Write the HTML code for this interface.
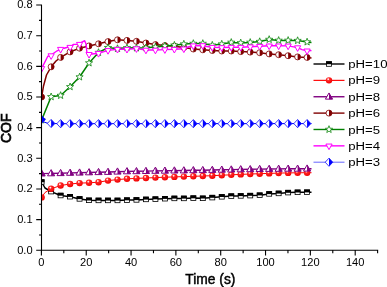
<!DOCTYPE html>
<html><head><meta charset="utf-8"><title>COF vs Time</title>
<style>html,body{margin:0;padding:0;background:#fff;overflow:hidden}svg{display:block}</style>
</head><body>
<svg width="387" height="287" viewBox="0 0 387 287">
<defs><radialGradient id="rg" cx="0.38" cy="0.32" r="0.7"><stop offset="0" stop-color="#fff"/><stop offset="0.12" stop-color="#ffd0d0"/><stop offset="0.3" stop-color="#ff2828"/><stop offset="1" stop-color="#f00000"/></radialGradient></defs>
<rect width="387" height="287" fill="#fff"/>
<clipPath id="cp"><rect x="41.2" y="0" width="340" height="251"/></clipPath><g clip-path="url(#cp)">
<g id="ph10"><path d="M41.65 182.00L45.00 188.00L51.13 191.60L60.61 195.50L70.09 196.70L79.57 198.90L89.05 200.30L98.53 200.40L108.01 200.40L117.49 200.40L126.97 200.10L136.45 199.90L145.93 199.40L155.41 199.10L164.89 198.70L174.37 198.40L183.85 198.40L193.33 198.10L202.81 198.30L212.29 197.60L221.77 196.80L231.25 196.10L240.73 195.90L250.21 195.60L259.69 195.20L269.17 193.90L278.65 193.40L288.13 192.60L297.61 192.30L307.09 192.20L311.50 192.20" fill="none" stroke="#000000" stroke-width="1.5" stroke-linejoin="round"/>
<rect x="39.10" y="179.70" width="5.00" height="4.60" fill="#fff" stroke="#000" stroke-width="0.8"/><rect x="38.70" y="179.30" width="5.80" height="2.90" fill="#000"/>
<rect x="48.63" y="189.30" width="5.00" height="4.60" fill="#fff" stroke="#000" stroke-width="0.8"/><rect x="48.23" y="188.90" width="5.80" height="2.90" fill="#000"/>
<rect x="58.11" y="193.20" width="5.00" height="4.60" fill="#fff" stroke="#000" stroke-width="0.8"/><rect x="57.71" y="192.80" width="5.80" height="2.90" fill="#000"/>
<rect x="67.59" y="194.40" width="5.00" height="4.60" fill="#fff" stroke="#000" stroke-width="0.8"/><rect x="67.19" y="194.00" width="5.80" height="2.90" fill="#000"/>
<rect x="77.07" y="196.60" width="5.00" height="4.60" fill="#fff" stroke="#000" stroke-width="0.8"/><rect x="76.67" y="196.20" width="5.80" height="2.90" fill="#000"/>
<rect x="86.55" y="198.00" width="5.00" height="4.60" fill="#fff" stroke="#000" stroke-width="0.8"/><rect x="86.15" y="197.60" width="5.80" height="2.90" fill="#000"/>
<rect x="96.03" y="198.10" width="5.00" height="4.60" fill="#fff" stroke="#000" stroke-width="0.8"/><rect x="95.63" y="197.70" width="5.80" height="2.90" fill="#000"/>
<rect x="105.51" y="198.10" width="5.00" height="4.60" fill="#fff" stroke="#000" stroke-width="0.8"/><rect x="105.11" y="197.70" width="5.80" height="2.90" fill="#000"/>
<rect x="114.99" y="198.10" width="5.00" height="4.60" fill="#fff" stroke="#000" stroke-width="0.8"/><rect x="114.59" y="197.70" width="5.80" height="2.90" fill="#000"/>
<rect x="124.47" y="197.80" width="5.00" height="4.60" fill="#fff" stroke="#000" stroke-width="0.8"/><rect x="124.07" y="197.40" width="5.80" height="2.90" fill="#000"/>
<rect x="133.95" y="197.60" width="5.00" height="4.60" fill="#fff" stroke="#000" stroke-width="0.8"/><rect x="133.55" y="197.20" width="5.80" height="2.90" fill="#000"/>
<rect x="143.43" y="197.10" width="5.00" height="4.60" fill="#fff" stroke="#000" stroke-width="0.8"/><rect x="143.03" y="196.70" width="5.80" height="2.90" fill="#000"/>
<rect x="152.91" y="196.80" width="5.00" height="4.60" fill="#fff" stroke="#000" stroke-width="0.8"/><rect x="152.51" y="196.40" width="5.80" height="2.90" fill="#000"/>
<rect x="162.39" y="196.40" width="5.00" height="4.60" fill="#fff" stroke="#000" stroke-width="0.8"/><rect x="161.99" y="196.00" width="5.80" height="2.90" fill="#000"/>
<rect x="171.87" y="196.10" width="5.00" height="4.60" fill="#fff" stroke="#000" stroke-width="0.8"/><rect x="171.47" y="195.70" width="5.80" height="2.90" fill="#000"/>
<rect x="181.35" y="196.10" width="5.00" height="4.60" fill="#fff" stroke="#000" stroke-width="0.8"/><rect x="180.95" y="195.70" width="5.80" height="2.90" fill="#000"/>
<rect x="190.83" y="195.80" width="5.00" height="4.60" fill="#fff" stroke="#000" stroke-width="0.8"/><rect x="190.43" y="195.40" width="5.80" height="2.90" fill="#000"/>
<rect x="200.31" y="196.00" width="5.00" height="4.60" fill="#fff" stroke="#000" stroke-width="0.8"/><rect x="199.91" y="195.60" width="5.80" height="2.90" fill="#000"/>
<rect x="209.79" y="195.30" width="5.00" height="4.60" fill="#fff" stroke="#000" stroke-width="0.8"/><rect x="209.39" y="194.90" width="5.80" height="2.90" fill="#000"/>
<rect x="219.27" y="194.50" width="5.00" height="4.60" fill="#fff" stroke="#000" stroke-width="0.8"/><rect x="218.87" y="194.10" width="5.80" height="2.90" fill="#000"/>
<rect x="228.75" y="193.80" width="5.00" height="4.60" fill="#fff" stroke="#000" stroke-width="0.8"/><rect x="228.35" y="193.40" width="5.80" height="2.90" fill="#000"/>
<rect x="238.23" y="193.60" width="5.00" height="4.60" fill="#fff" stroke="#000" stroke-width="0.8"/><rect x="237.83" y="193.20" width="5.80" height="2.90" fill="#000"/>
<rect x="247.71" y="193.30" width="5.00" height="4.60" fill="#fff" stroke="#000" stroke-width="0.8"/><rect x="247.31" y="192.90" width="5.80" height="2.90" fill="#000"/>
<rect x="257.19" y="192.90" width="5.00" height="4.60" fill="#fff" stroke="#000" stroke-width="0.8"/><rect x="256.79" y="192.50" width="5.80" height="2.90" fill="#000"/>
<rect x="266.67" y="191.60" width="5.00" height="4.60" fill="#fff" stroke="#000" stroke-width="0.8"/><rect x="266.27" y="191.20" width="5.80" height="2.90" fill="#000"/>
<rect x="276.15" y="191.10" width="5.00" height="4.60" fill="#fff" stroke="#000" stroke-width="0.8"/><rect x="275.75" y="190.70" width="5.80" height="2.90" fill="#000"/>
<rect x="285.63" y="190.30" width="5.00" height="4.60" fill="#fff" stroke="#000" stroke-width="0.8"/><rect x="285.23" y="189.90" width="5.80" height="2.90" fill="#000"/>
<rect x="295.11" y="190.00" width="5.00" height="4.60" fill="#fff" stroke="#000" stroke-width="0.8"/><rect x="294.71" y="189.60" width="5.80" height="2.90" fill="#000"/>
<rect x="304.59" y="189.90" width="5.00" height="4.60" fill="#fff" stroke="#000" stroke-width="0.8"/><rect x="304.19" y="189.50" width="5.80" height="2.90" fill="#000"/>
</g>
<g id="ph9"><path d="M41.65 197.40L45.00 192.50L51.13 188.80L60.61 185.50L70.09 184.00L79.57 183.10L89.05 182.80L98.53 182.20L108.01 180.60L117.49 179.60L126.97 178.80L136.45 178.40L145.93 178.00L155.41 177.60L164.89 177.20L174.37 176.90L183.85 176.60L193.33 176.30L202.81 176.00L212.29 175.70L221.77 175.20L231.25 174.80L240.73 174.40L250.21 174.00L259.69 173.70L269.17 173.40L278.65 173.10L288.13 172.90L297.61 172.80L307.09 172.70L311.50 172.70" fill="none" stroke="#ff0000" stroke-width="1.0" stroke-linejoin="round"/>
<circle cx="41.6" cy="197.4" r="3.2" fill="url(#rg)"/>
<circle cx="51.13" cy="188.8" r="3.2" fill="url(#rg)"/>
<circle cx="60.61" cy="185.5" r="3.2" fill="url(#rg)"/>
<circle cx="70.09" cy="184.0" r="3.2" fill="url(#rg)"/>
<circle cx="79.57" cy="183.1" r="3.2" fill="url(#rg)"/>
<circle cx="89.05" cy="182.8" r="3.2" fill="url(#rg)"/>
<circle cx="98.53" cy="182.2" r="3.2" fill="url(#rg)"/>
<circle cx="108.01" cy="180.6" r="3.2" fill="url(#rg)"/>
<circle cx="117.49" cy="179.6" r="3.2" fill="url(#rg)"/>
<circle cx="126.97" cy="178.8" r="3.2" fill="url(#rg)"/>
<circle cx="136.45" cy="178.4" r="3.2" fill="url(#rg)"/>
<circle cx="145.93" cy="178.0" r="3.2" fill="url(#rg)"/>
<circle cx="155.41" cy="177.6" r="3.2" fill="url(#rg)"/>
<circle cx="164.89" cy="177.2" r="3.2" fill="url(#rg)"/>
<circle cx="174.37" cy="176.9" r="3.2" fill="url(#rg)"/>
<circle cx="183.85" cy="176.6" r="3.2" fill="url(#rg)"/>
<circle cx="193.33" cy="176.3" r="3.2" fill="url(#rg)"/>
<circle cx="202.81" cy="176.0" r="3.2" fill="url(#rg)"/>
<circle cx="212.29" cy="175.7" r="3.2" fill="url(#rg)"/>
<circle cx="221.77" cy="175.2" r="3.2" fill="url(#rg)"/>
<circle cx="231.25" cy="174.8" r="3.2" fill="url(#rg)"/>
<circle cx="240.73" cy="174.4" r="3.2" fill="url(#rg)"/>
<circle cx="250.21" cy="174.0" r="3.2" fill="url(#rg)"/>
<circle cx="259.69" cy="173.7" r="3.2" fill="url(#rg)"/>
<circle cx="269.17" cy="173.4" r="3.2" fill="url(#rg)"/>
<circle cx="278.65" cy="173.1" r="3.2" fill="url(#rg)"/>
<circle cx="288.13" cy="172.9" r="3.2" fill="url(#rg)"/>
<circle cx="297.61" cy="172.8" r="3.2" fill="url(#rg)"/>
<circle cx="307.09" cy="172.7" r="3.2" fill="url(#rg)"/>
</g>
<g id="ph8"><path d="M41.65 173.60L51.13 173.40L60.61 173.20L70.09 172.90L79.57 172.70L89.05 172.40L98.53 172.20L108.01 172.00L117.49 171.70L126.97 171.40L136.45 171.30L145.93 171.10L155.41 170.90L164.89 170.80L174.37 170.60L183.85 170.50L193.33 170.30L202.81 170.20L212.29 170.00L221.77 169.80L231.25 169.60L240.73 169.40L250.21 169.30L259.69 169.10L269.17 169.00L278.65 168.90L288.13 168.80L297.61 168.80L307.09 168.70L311.50 168.70" fill="none" stroke="#800080" stroke-width="1.4" stroke-linejoin="round"/>
<path d="M41.60 169.80L38.00 176.00L45.20 176.00Z" fill="#fff" stroke="#800080" stroke-width="1"/><path d="M41.60 169.80L41.60 176.00L45.20 176.00Z" fill="#800080"/>
<path d="M51.13 169.60L47.53 175.80L54.73 175.80Z" fill="#fff" stroke="#800080" stroke-width="1"/><path d="M51.13 169.60L51.13 175.80L54.73 175.80Z" fill="#800080"/>
<path d="M60.61 169.40L57.01 175.60L64.21 175.60Z" fill="#fff" stroke="#800080" stroke-width="1"/><path d="M60.61 169.40L60.61 175.60L64.21 175.60Z" fill="#800080"/>
<path d="M70.09 169.10L66.49 175.30L73.69 175.30Z" fill="#fff" stroke="#800080" stroke-width="1"/><path d="M70.09 169.10L70.09 175.30L73.69 175.30Z" fill="#800080"/>
<path d="M79.57 168.90L75.97 175.10L83.17 175.10Z" fill="#fff" stroke="#800080" stroke-width="1"/><path d="M79.57 168.90L79.57 175.10L83.17 175.10Z" fill="#800080"/>
<path d="M89.05 168.60L85.45 174.80L92.65 174.80Z" fill="#fff" stroke="#800080" stroke-width="1"/><path d="M89.05 168.60L89.05 174.80L92.65 174.80Z" fill="#800080"/>
<path d="M98.53 168.40L94.93 174.60L102.13 174.60Z" fill="#fff" stroke="#800080" stroke-width="1"/><path d="M98.53 168.40L98.53 174.60L102.13 174.60Z" fill="#800080"/>
<path d="M108.01 168.20L104.41 174.40L111.61 174.40Z" fill="#fff" stroke="#800080" stroke-width="1"/><path d="M108.01 168.20L108.01 174.40L111.61 174.40Z" fill="#800080"/>
<path d="M117.49 167.90L113.89 174.10L121.09 174.10Z" fill="#fff" stroke="#800080" stroke-width="1"/><path d="M117.49 167.90L117.49 174.10L121.09 174.10Z" fill="#800080"/>
<path d="M126.97 167.60L123.37 173.80L130.57 173.80Z" fill="#fff" stroke="#800080" stroke-width="1"/><path d="M126.97 167.60L126.97 173.80L130.57 173.80Z" fill="#800080"/>
<path d="M136.45 167.50L132.85 173.70L140.05 173.70Z" fill="#fff" stroke="#800080" stroke-width="1"/><path d="M136.45 167.50L136.45 173.70L140.05 173.70Z" fill="#800080"/>
<path d="M145.93 167.30L142.33 173.50L149.53 173.50Z" fill="#fff" stroke="#800080" stroke-width="1"/><path d="M145.93 167.30L145.93 173.50L149.53 173.50Z" fill="#800080"/>
<path d="M155.41 167.10L151.81 173.30L159.01 173.30Z" fill="#fff" stroke="#800080" stroke-width="1"/><path d="M155.41 167.10L155.41 173.30L159.01 173.30Z" fill="#800080"/>
<path d="M164.89 167.00L161.29 173.20L168.49 173.20Z" fill="#fff" stroke="#800080" stroke-width="1"/><path d="M164.89 167.00L164.89 173.20L168.49 173.20Z" fill="#800080"/>
<path d="M174.37 166.80L170.77 173.00L177.97 173.00Z" fill="#fff" stroke="#800080" stroke-width="1"/><path d="M174.37 166.80L174.37 173.00L177.97 173.00Z" fill="#800080"/>
<path d="M183.85 166.70L180.25 172.90L187.45 172.90Z" fill="#fff" stroke="#800080" stroke-width="1"/><path d="M183.85 166.70L183.85 172.90L187.45 172.90Z" fill="#800080"/>
<path d="M193.33 166.50L189.73 172.70L196.93 172.70Z" fill="#fff" stroke="#800080" stroke-width="1"/><path d="M193.33 166.50L193.33 172.70L196.93 172.70Z" fill="#800080"/>
<path d="M202.81 166.40L199.21 172.60L206.41 172.60Z" fill="#fff" stroke="#800080" stroke-width="1"/><path d="M202.81 166.40L202.81 172.60L206.41 172.60Z" fill="#800080"/>
<path d="M212.29 166.20L208.69 172.40L215.89 172.40Z" fill="#fff" stroke="#800080" stroke-width="1"/><path d="M212.29 166.20L212.29 172.40L215.89 172.40Z" fill="#800080"/>
<path d="M221.77 166.00L218.17 172.20L225.37 172.20Z" fill="#fff" stroke="#800080" stroke-width="1"/><path d="M221.77 166.00L221.77 172.20L225.37 172.20Z" fill="#800080"/>
<path d="M231.25 165.80L227.65 172.00L234.85 172.00Z" fill="#fff" stroke="#800080" stroke-width="1"/><path d="M231.25 165.80L231.25 172.00L234.85 172.00Z" fill="#800080"/>
<path d="M240.73 165.60L237.13 171.80L244.33 171.80Z" fill="#fff" stroke="#800080" stroke-width="1"/><path d="M240.73 165.60L240.73 171.80L244.33 171.80Z" fill="#800080"/>
<path d="M250.21 165.50L246.61 171.70L253.81 171.70Z" fill="#fff" stroke="#800080" stroke-width="1"/><path d="M250.21 165.50L250.21 171.70L253.81 171.70Z" fill="#800080"/>
<path d="M259.69 165.30L256.09 171.50L263.29 171.50Z" fill="#fff" stroke="#800080" stroke-width="1"/><path d="M259.69 165.30L259.69 171.50L263.29 171.50Z" fill="#800080"/>
<path d="M269.17 165.20L265.57 171.40L272.77 171.40Z" fill="#fff" stroke="#800080" stroke-width="1"/><path d="M269.17 165.20L269.17 171.40L272.77 171.40Z" fill="#800080"/>
<path d="M278.65 165.10L275.05 171.30L282.25 171.30Z" fill="#fff" stroke="#800080" stroke-width="1"/><path d="M278.65 165.10L278.65 171.30L282.25 171.30Z" fill="#800080"/>
<path d="M288.13 165.00L284.53 171.20L291.73 171.20Z" fill="#fff" stroke="#800080" stroke-width="1"/><path d="M288.13 165.00L288.13 171.20L291.73 171.20Z" fill="#800080"/>
<path d="M297.61 165.00L294.01 171.20L301.21 171.20Z" fill="#fff" stroke="#800080" stroke-width="1"/><path d="M297.61 165.00L297.61 171.20L301.21 171.20Z" fill="#800080"/>
<path d="M307.09 164.90L303.49 171.10L310.69 171.10Z" fill="#fff" stroke="#800080" stroke-width="1"/><path d="M307.09 164.90L307.09 171.10L310.69 171.10Z" fill="#800080"/>
</g>
<g id="ph6"><path d="M41.65 97.00L43.50 86.00L46.50 75.00L51.13 66.80L56.00 61.00L60.61 57.40L70.09 51.90L79.57 48.20L89.05 45.90L98.53 43.80L108.01 41.60L117.49 39.80L126.97 40.40L136.45 41.30L145.93 43.00L155.41 44.60L164.89 45.60L174.37 46.30L183.85 47.50L193.33 49.00L202.81 49.80L212.29 50.50L221.77 51.00L231.25 51.00L240.73 51.60L250.21 52.10L259.69 52.70L269.17 53.90L278.65 54.70L288.13 55.70L297.61 56.90L307.09 57.40L311.50 57.90" fill="none" stroke="#800000" stroke-width="1.5" stroke-linejoin="round"/>
<circle cx="41.6" cy="97.0" r="3.0" fill="#fff" stroke="#800000" stroke-width="0.8"/><path d="M41.6 94.0A3.0 3.0 0 0 1 41.6 100.0Z" fill="#800000"/>
<circle cx="51.13" cy="66.8" r="3.0" fill="#fff" stroke="#800000" stroke-width="0.8"/><path d="M51.13 63.8A3.0 3.0 0 0 1 51.13 69.8Z" fill="#800000"/>
<circle cx="60.61" cy="57.4" r="3.0" fill="#fff" stroke="#800000" stroke-width="0.8"/><path d="M60.61 54.4A3.0 3.0 0 0 1 60.61 60.4Z" fill="#800000"/>
<circle cx="70.09" cy="51.9" r="3.0" fill="#fff" stroke="#800000" stroke-width="0.8"/><path d="M70.09 48.9A3.0 3.0 0 0 1 70.09 54.9Z" fill="#800000"/>
<circle cx="79.57" cy="48.2" r="3.0" fill="#fff" stroke="#800000" stroke-width="0.8"/><path d="M79.57 45.2A3.0 3.0 0 0 1 79.57 51.2Z" fill="#800000"/>
<circle cx="89.05" cy="45.9" r="3.0" fill="#fff" stroke="#800000" stroke-width="0.8"/><path d="M89.05 42.9A3.0 3.0 0 0 1 89.05 48.9Z" fill="#800000"/>
<circle cx="98.53" cy="43.8" r="3.0" fill="#fff" stroke="#800000" stroke-width="0.8"/><path d="M98.53 40.8A3.0 3.0 0 0 1 98.53 46.8Z" fill="#800000"/>
<circle cx="108.01" cy="41.6" r="3.0" fill="#fff" stroke="#800000" stroke-width="0.8"/><path d="M108.01 38.6A3.0 3.0 0 0 1 108.01 44.6Z" fill="#800000"/>
<circle cx="117.49" cy="39.8" r="3.0" fill="#fff" stroke="#800000" stroke-width="0.8"/><path d="M117.49 36.8A3.0 3.0 0 0 1 117.49 42.8Z" fill="#800000"/>
<circle cx="126.97" cy="40.4" r="3.0" fill="#fff" stroke="#800000" stroke-width="0.8"/><path d="M126.97 37.4A3.0 3.0 0 0 1 126.97 43.4Z" fill="#800000"/>
<circle cx="136.45" cy="41.3" r="3.0" fill="#fff" stroke="#800000" stroke-width="0.8"/><path d="M136.45 38.3A3.0 3.0 0 0 1 136.45 44.3Z" fill="#800000"/>
<circle cx="145.93" cy="43.0" r="3.0" fill="#fff" stroke="#800000" stroke-width="0.8"/><path d="M145.93 40.0A3.0 3.0 0 0 1 145.93 46.0Z" fill="#800000"/>
<circle cx="155.41" cy="44.6" r="3.0" fill="#fff" stroke="#800000" stroke-width="0.8"/><path d="M155.41 41.6A3.0 3.0 0 0 1 155.41 47.6Z" fill="#800000"/>
<circle cx="164.89" cy="45.6" r="3.0" fill="#fff" stroke="#800000" stroke-width="0.8"/><path d="M164.89 42.6A3.0 3.0 0 0 1 164.89 48.6Z" fill="#800000"/>
<circle cx="174.37" cy="46.3" r="3.0" fill="#fff" stroke="#800000" stroke-width="0.8"/><path d="M174.37 43.3A3.0 3.0 0 0 1 174.37 49.3Z" fill="#800000"/>
<circle cx="183.85" cy="47.5" r="3.0" fill="#fff" stroke="#800000" stroke-width="0.8"/><path d="M183.85 44.5A3.0 3.0 0 0 1 183.85 50.5Z" fill="#800000"/>
<circle cx="193.33" cy="49.0" r="3.0" fill="#fff" stroke="#800000" stroke-width="0.8"/><path d="M193.33 46.0A3.0 3.0 0 0 1 193.33 52.0Z" fill="#800000"/>
<circle cx="202.81" cy="49.8" r="3.0" fill="#fff" stroke="#800000" stroke-width="0.8"/><path d="M202.81 46.8A3.0 3.0 0 0 1 202.81 52.8Z" fill="#800000"/>
<circle cx="212.29" cy="50.5" r="3.0" fill="#fff" stroke="#800000" stroke-width="0.8"/><path d="M212.29 47.5A3.0 3.0 0 0 1 212.29 53.5Z" fill="#800000"/>
<circle cx="221.77" cy="51.0" r="3.0" fill="#fff" stroke="#800000" stroke-width="0.8"/><path d="M221.77 48.0A3.0 3.0 0 0 1 221.77 54.0Z" fill="#800000"/>
<circle cx="231.25" cy="51.0" r="3.0" fill="#fff" stroke="#800000" stroke-width="0.8"/><path d="M231.25 48.0A3.0 3.0 0 0 1 231.25 54.0Z" fill="#800000"/>
<circle cx="240.73" cy="51.6" r="3.0" fill="#fff" stroke="#800000" stroke-width="0.8"/><path d="M240.73 48.6A3.0 3.0 0 0 1 240.73 54.6Z" fill="#800000"/>
<circle cx="250.21" cy="52.1" r="3.0" fill="#fff" stroke="#800000" stroke-width="0.8"/><path d="M250.21 49.1A3.0 3.0 0 0 1 250.21 55.1Z" fill="#800000"/>
<circle cx="259.69" cy="52.7" r="3.0" fill="#fff" stroke="#800000" stroke-width="0.8"/><path d="M259.69 49.7A3.0 3.0 0 0 1 259.69 55.7Z" fill="#800000"/>
<circle cx="269.17" cy="53.9" r="3.0" fill="#fff" stroke="#800000" stroke-width="0.8"/><path d="M269.17 50.9A3.0 3.0 0 0 1 269.17 56.9Z" fill="#800000"/>
<circle cx="278.65" cy="54.7" r="3.0" fill="#fff" stroke="#800000" stroke-width="0.8"/><path d="M278.65 51.7A3.0 3.0 0 0 1 278.65 57.7Z" fill="#800000"/>
<circle cx="288.13" cy="55.7" r="3.0" fill="#fff" stroke="#800000" stroke-width="0.8"/><path d="M288.13 52.7A3.0 3.0 0 0 1 288.13 58.7Z" fill="#800000"/>
<circle cx="297.61" cy="56.9" r="3.0" fill="#fff" stroke="#800000" stroke-width="0.8"/><path d="M297.61 53.9A3.0 3.0 0 0 1 297.61 59.9Z" fill="#800000"/>
<circle cx="307.09" cy="57.4" r="3.0" fill="#fff" stroke="#800000" stroke-width="0.8"/><path d="M307.09 54.4A3.0 3.0 0 0 1 307.09 60.4Z" fill="#800000"/>
</g>
<g id="ph5"><path d="M41.65 120.00L51.13 96.80L60.61 95.50L70.09 86.80L79.57 77.00L89.05 63.00L98.53 52.50L108.01 47.70L117.49 48.60L126.97 47.80L136.45 48.00L145.93 47.80L155.41 47.00L164.89 45.90L174.37 45.20L183.85 44.10L193.33 43.50L202.81 43.50L212.29 45.20L221.77 44.10L231.25 42.40L240.73 42.90L250.21 42.40L259.69 41.60L269.17 39.50L278.65 40.40L288.13 40.40L297.61 40.60L307.09 42.00L311.50 42.50" fill="none" stroke="#008000" stroke-width="1.5" stroke-linejoin="round"/>
<path d="M41.60 116.20L42.54 118.71L45.21 118.83L43.12 120.49L43.83 123.07L41.60 121.60L39.37 123.07L40.08 120.49L37.99 118.83L40.66 118.71Z" fill="#fff" stroke="#008000" stroke-width="0.75"/>
<path d="M51.13 93.00L52.07 95.51L54.74 95.63L52.65 97.29L53.36 99.87L51.13 98.40L48.90 99.87L49.61 97.29L47.52 95.63L50.19 95.51Z" fill="#fff" stroke="#008000" stroke-width="0.75"/>
<path d="M60.61 91.70L61.55 94.21L64.22 94.33L62.13 95.99L62.84 98.57L60.61 97.10L58.38 98.57L59.09 95.99L57.00 94.33L59.67 94.21Z" fill="#fff" stroke="#008000" stroke-width="0.75"/>
<path d="M70.09 83.00L71.03 85.51L73.70 85.63L71.61 87.29L72.32 89.87L70.09 88.40L67.86 89.87L68.57 87.29L66.48 85.63L69.15 85.51Z" fill="#fff" stroke="#008000" stroke-width="0.75"/>
<path d="M79.57 73.20L80.51 75.71L83.18 75.83L81.09 77.49L81.80 80.07L79.57 78.60L77.34 80.07L78.05 77.49L75.96 75.83L78.63 75.71Z" fill="#fff" stroke="#008000" stroke-width="0.75"/>
<path d="M89.05 59.20L89.99 61.71L92.66 61.83L90.57 63.49L91.28 66.07L89.05 64.60L86.82 66.07L87.53 63.49L85.44 61.83L88.11 61.71Z" fill="#fff" stroke="#008000" stroke-width="0.75"/>
<path d="M98.53 48.70L99.47 51.21L102.14 51.33L100.05 52.99L100.76 55.57L98.53 54.10L96.30 55.57L97.01 52.99L94.92 51.33L97.59 51.21Z" fill="#fff" stroke="#008000" stroke-width="0.75"/>
<path d="M108.01 43.90L108.95 46.41L111.62 46.53L109.53 48.19L110.24 50.77L108.01 49.30L105.78 50.77L106.49 48.19L104.40 46.53L107.07 46.41Z" fill="#fff" stroke="#008000" stroke-width="0.75"/>
<path d="M117.49 44.80L118.43 47.31L121.10 47.43L119.01 49.09L119.72 51.67L117.49 50.20L115.26 51.67L115.97 49.09L113.88 47.43L116.55 47.31Z" fill="#fff" stroke="#008000" stroke-width="0.75"/>
<path d="M126.97 44.00L127.91 46.51L130.58 46.63L128.49 48.29L129.20 50.87L126.97 49.40L124.74 50.87L125.45 48.29L123.36 46.63L126.03 46.51Z" fill="#fff" stroke="#008000" stroke-width="0.75"/>
<path d="M136.45 44.20L137.39 46.71L140.06 46.83L137.97 48.49L138.68 51.07L136.45 49.60L134.22 51.07L134.93 48.49L132.84 46.83L135.51 46.71Z" fill="#fff" stroke="#008000" stroke-width="0.75"/>
<path d="M145.93 44.00L146.87 46.51L149.54 46.63L147.45 48.29L148.16 50.87L145.93 49.40L143.70 50.87L144.41 48.29L142.32 46.63L144.99 46.51Z" fill="#fff" stroke="#008000" stroke-width="0.75"/>
<path d="M155.41 43.20L156.35 45.71L159.02 45.83L156.93 47.49L157.64 50.07L155.41 48.60L153.18 50.07L153.89 47.49L151.80 45.83L154.47 45.71Z" fill="#fff" stroke="#008000" stroke-width="0.75"/>
<path d="M164.89 42.10L165.83 44.61L168.50 44.73L166.41 46.39L167.12 48.97L164.89 47.50L162.66 48.97L163.37 46.39L161.28 44.73L163.95 44.61Z" fill="#fff" stroke="#008000" stroke-width="0.75"/>
<path d="M174.37 41.40L175.31 43.91L177.98 44.03L175.89 45.69L176.60 48.27L174.37 46.80L172.14 48.27L172.85 45.69L170.76 44.03L173.43 43.91Z" fill="#fff" stroke="#008000" stroke-width="0.75"/>
<path d="M183.85 40.30L184.79 42.81L187.46 42.93L185.37 44.59L186.08 47.17L183.85 45.70L181.62 47.17L182.33 44.59L180.24 42.93L182.91 42.81Z" fill="#fff" stroke="#008000" stroke-width="0.75"/>
<path d="M193.33 39.70L194.27 42.21L196.94 42.33L194.85 43.99L195.56 46.57L193.33 45.10L191.10 46.57L191.81 43.99L189.72 42.33L192.39 42.21Z" fill="#fff" stroke="#008000" stroke-width="0.75"/>
<path d="M202.81 39.70L203.75 42.21L206.42 42.33L204.33 43.99L205.04 46.57L202.81 45.10L200.58 46.57L201.29 43.99L199.20 42.33L201.87 42.21Z" fill="#fff" stroke="#008000" stroke-width="0.75"/>
<path d="M212.29 41.40L213.23 43.91L215.90 44.03L213.81 45.69L214.52 48.27L212.29 46.80L210.06 48.27L210.77 45.69L208.68 44.03L211.35 43.91Z" fill="#fff" stroke="#008000" stroke-width="0.75"/>
<path d="M221.77 40.30L222.71 42.81L225.38 42.93L223.29 44.59L224.00 47.17L221.77 45.70L219.54 47.17L220.25 44.59L218.16 42.93L220.83 42.81Z" fill="#fff" stroke="#008000" stroke-width="0.75"/>
<path d="M231.25 38.60L232.19 41.11L234.86 41.23L232.77 42.89L233.48 45.47L231.25 44.00L229.02 45.47L229.73 42.89L227.64 41.23L230.31 41.11Z" fill="#fff" stroke="#008000" stroke-width="0.75"/>
<path d="M240.73 39.10L241.67 41.61L244.34 41.73L242.25 43.39L242.96 45.97L240.73 44.50L238.50 45.97L239.21 43.39L237.12 41.73L239.79 41.61Z" fill="#fff" stroke="#008000" stroke-width="0.75"/>
<path d="M250.21 38.60L251.15 41.11L253.82 41.23L251.73 42.89L252.44 45.47L250.21 44.00L247.98 45.47L248.69 42.89L246.60 41.23L249.27 41.11Z" fill="#fff" stroke="#008000" stroke-width="0.75"/>
<path d="M259.69 37.80L260.63 40.31L263.30 40.43L261.21 42.09L261.92 44.67L259.69 43.20L257.46 44.67L258.17 42.09L256.08 40.43L258.75 40.31Z" fill="#fff" stroke="#008000" stroke-width="0.75"/>
<path d="M269.17 35.70L270.11 38.21L272.78 38.33L270.69 39.99L271.40 42.57L269.17 41.10L266.94 42.57L267.65 39.99L265.56 38.33L268.23 38.21Z" fill="#fff" stroke="#008000" stroke-width="0.75"/>
<path d="M278.65 36.60L279.59 39.11L282.26 39.23L280.17 40.89L280.88 43.47L278.65 42.00L276.42 43.47L277.13 40.89L275.04 39.23L277.71 39.11Z" fill="#fff" stroke="#008000" stroke-width="0.75"/>
<path d="M288.13 36.60L289.07 39.11L291.74 39.23L289.65 40.89L290.36 43.47L288.13 42.00L285.90 43.47L286.61 40.89L284.52 39.23L287.19 39.11Z" fill="#fff" stroke="#008000" stroke-width="0.75"/>
<path d="M297.61 36.80L298.55 39.31L301.22 39.43L299.13 41.09L299.84 43.67L297.61 42.20L295.38 43.67L296.09 41.09L294.00 39.43L296.67 39.31Z" fill="#fff" stroke="#008000" stroke-width="0.75"/>
<path d="M307.09 38.20L308.03 40.71L310.70 40.83L308.61 42.49L309.32 45.07L307.09 43.60L304.86 45.07L305.57 42.49L303.48 40.83L306.15 40.71Z" fill="#fff" stroke="#008000" stroke-width="0.75"/>
</g>
<g id="ph4"><path d="M41.65 68.40L47.80 56.30L51.13 55.60L53.60 53.30L57.20 50.80L60.61 49.20L64.00 48.20L67.70 47.20L70.09 47.20L73.50 44.40L79.57 44.20L81.00 42.60L84.70 40.70L86.00 44.00L87.00 53.50L89.05 54.30L92.00 54.00L98.53 53.30L108.01 50.40L117.49 49.20L126.97 49.20L136.45 48.60L145.93 50.00L155.41 50.00L164.89 49.60L174.37 49.20L183.85 48.80L188.00 47.00L193.33 45.70L202.81 45.50L207.00 46.50L212.29 47.20L221.77 47.50L231.25 47.20L240.73 47.20L250.21 46.70L259.69 46.20L269.17 45.80L278.65 45.80L288.13 45.90L297.61 47.60L302.00 49.60L307.09 50.80L311.50 50.60" fill="none" stroke="#ff00ff" stroke-width="1.4" stroke-linejoin="round"/>
<path d="M41.60 72.20L38.50 66.60L44.70 66.60Z" fill="#fff" stroke="#ff00ff" stroke-width="1"/>
<path d="M51.13 59.40L48.03 53.80L54.23 53.80Z" fill="#fff" stroke="#ff00ff" stroke-width="1"/>
<path d="M60.61 53.00L57.51 47.40L63.71 47.40Z" fill="#fff" stroke="#ff00ff" stroke-width="1"/>
<path d="M70.09 51.00L66.99 45.40L73.19 45.40Z" fill="#fff" stroke="#ff00ff" stroke-width="1"/>
<path d="M79.57 48.00L76.47 42.40L82.67 42.40Z" fill="#fff" stroke="#ff00ff" stroke-width="1"/>
<path d="M89.05 58.10L85.95 52.50L92.15 52.50Z" fill="#fff" stroke="#ff00ff" stroke-width="1"/>
<path d="M98.53 57.10L95.43 51.50L101.63 51.50Z" fill="#fff" stroke="#ff00ff" stroke-width="1"/>
<path d="M108.01 54.20L104.91 48.60L111.11 48.60Z" fill="#fff" stroke="#ff00ff" stroke-width="1"/>
<path d="M117.49 53.00L114.39 47.40L120.59 47.40Z" fill="#fff" stroke="#ff00ff" stroke-width="1"/>
<path d="M126.97 53.00L123.87 47.40L130.07 47.40Z" fill="#fff" stroke="#ff00ff" stroke-width="1"/>
<path d="M136.45 52.40L133.35 46.80L139.55 46.80Z" fill="#fff" stroke="#ff00ff" stroke-width="1"/>
<path d="M145.93 53.80L142.83 48.20L149.03 48.20Z" fill="#fff" stroke="#ff00ff" stroke-width="1"/>
<path d="M155.41 53.80L152.31 48.20L158.51 48.20Z" fill="#fff" stroke="#ff00ff" stroke-width="1"/>
<path d="M164.89 53.40L161.79 47.80L167.99 47.80Z" fill="#fff" stroke="#ff00ff" stroke-width="1"/>
<path d="M174.37 53.00L171.27 47.40L177.47 47.40Z" fill="#fff" stroke="#ff00ff" stroke-width="1"/>
<path d="M183.85 52.60L180.75 47.00L186.95 47.00Z" fill="#fff" stroke="#ff00ff" stroke-width="1"/>
<path d="M193.33 49.50L190.23 43.90L196.43 43.90Z" fill="#fff" stroke="#ff00ff" stroke-width="1"/>
<path d="M202.81 49.30L199.71 43.70L205.91 43.70Z" fill="#fff" stroke="#ff00ff" stroke-width="1"/>
<path d="M212.29 51.00L209.19 45.40L215.39 45.40Z" fill="#fff" stroke="#ff00ff" stroke-width="1"/>
<path d="M221.77 51.30L218.67 45.70L224.87 45.70Z" fill="#fff" stroke="#ff00ff" stroke-width="1"/>
<path d="M231.25 51.00L228.15 45.40L234.35 45.40Z" fill="#fff" stroke="#ff00ff" stroke-width="1"/>
<path d="M240.73 51.00L237.63 45.40L243.83 45.40Z" fill="#fff" stroke="#ff00ff" stroke-width="1"/>
<path d="M250.21 50.50L247.11 44.90L253.31 44.90Z" fill="#fff" stroke="#ff00ff" stroke-width="1"/>
<path d="M259.69 50.00L256.59 44.40L262.79 44.40Z" fill="#fff" stroke="#ff00ff" stroke-width="1"/>
<path d="M269.17 49.60L266.07 44.00L272.27 44.00Z" fill="#fff" stroke="#ff00ff" stroke-width="1"/>
<path d="M278.65 49.60L275.55 44.00L281.75 44.00Z" fill="#fff" stroke="#ff00ff" stroke-width="1"/>
<path d="M288.13 49.70L285.03 44.10L291.23 44.10Z" fill="#fff" stroke="#ff00ff" stroke-width="1"/>
<path d="M297.61 51.40L294.51 45.80L300.71 45.80Z" fill="#fff" stroke="#ff00ff" stroke-width="1"/>
<path d="M307.09 54.60L303.99 49.00L310.19 49.00Z" fill="#fff" stroke="#ff00ff" stroke-width="1"/>
</g>
<g id="ph3"><path d="M41.50 119.50L44.00 122.00L48.00 123.40L60.00 123.70L311.50 123.60" fill="none" stroke="#0000ff" stroke-width="1.0" stroke-linejoin="round"/>
<path d="M37.80 119.6L41.6 115.50L45.40 119.6L41.6 123.70Z" fill="#fff" stroke="#0000ff" stroke-width="0.75"/><path d="M41.6 115.50L45.40 119.6L41.6 123.70Z" fill="#0000ff"/>
<path d="M47.33 123.48L51.13 119.38L54.93 123.48L51.13 127.58Z" fill="#fff" stroke="#0000ff" stroke-width="0.75"/><path d="M51.13 119.38L54.93 123.48L51.13 127.58Z" fill="#0000ff"/>
<path d="M56.81 123.7L60.61 119.60L64.41 123.7L60.61 127.80Z" fill="#fff" stroke="#0000ff" stroke-width="0.75"/><path d="M60.61 119.60L64.41 123.7L60.61 127.80Z" fill="#0000ff"/>
<path d="M66.29 123.7L70.09 119.60L73.89 123.7L70.09 127.80Z" fill="#fff" stroke="#0000ff" stroke-width="0.75"/><path d="M70.09 119.60L73.89 123.7L70.09 127.80Z" fill="#0000ff"/>
<path d="M75.77 123.69L79.57 119.59L83.37 123.69L79.57 127.79Z" fill="#fff" stroke="#0000ff" stroke-width="0.75"/><path d="M79.57 119.59L83.37 123.69L79.57 127.79Z" fill="#0000ff"/>
<path d="M85.25 123.69L89.05 119.59L92.85 123.69L89.05 127.79Z" fill="#fff" stroke="#0000ff" stroke-width="0.75"/><path d="M89.05 119.59L92.85 123.69L89.05 127.79Z" fill="#0000ff"/>
<path d="M94.73 123.68L98.53 119.58L102.33 123.68L98.53 127.78Z" fill="#fff" stroke="#0000ff" stroke-width="0.75"/><path d="M98.53 119.58L102.33 123.68L98.53 127.78Z" fill="#0000ff"/>
<path d="M104.21 123.68L108.01 119.58L111.81 123.68L108.01 127.78Z" fill="#fff" stroke="#0000ff" stroke-width="0.75"/><path d="M108.01 119.58L111.81 123.68L108.01 127.78Z" fill="#0000ff"/>
<path d="M113.69 123.68L117.49 119.58L121.29 123.68L117.49 127.78Z" fill="#fff" stroke="#0000ff" stroke-width="0.75"/><path d="M117.49 119.58L121.29 123.68L117.49 127.78Z" fill="#0000ff"/>
<path d="M123.17 123.67L126.97 119.57L130.77 123.67L126.97 127.77Z" fill="#fff" stroke="#0000ff" stroke-width="0.75"/><path d="M126.97 119.57L130.77 123.67L126.97 127.77Z" fill="#0000ff"/>
<path d="M132.65 123.67L136.45 119.57L140.25 123.67L136.45 127.77Z" fill="#fff" stroke="#0000ff" stroke-width="0.75"/><path d="M136.45 119.57L140.25 123.67L136.45 127.77Z" fill="#0000ff"/>
<path d="M142.13 123.67L145.93 119.57L149.73 123.67L145.93 127.77Z" fill="#fff" stroke="#0000ff" stroke-width="0.75"/><path d="M145.93 119.57L149.73 123.67L145.93 127.77Z" fill="#0000ff"/>
<path d="M151.61 123.66L155.41 119.56L159.21 123.66L155.41 127.76Z" fill="#fff" stroke="#0000ff" stroke-width="0.75"/><path d="M155.41 119.56L159.21 123.66L155.41 127.76Z" fill="#0000ff"/>
<path d="M161.09 123.66L164.89 119.56L168.69 123.66L164.89 127.76Z" fill="#fff" stroke="#0000ff" stroke-width="0.75"/><path d="M164.89 119.56L168.69 123.66L164.89 127.76Z" fill="#0000ff"/>
<path d="M170.57 123.65L174.37 119.55L178.17 123.65L174.37 127.75Z" fill="#fff" stroke="#0000ff" stroke-width="0.75"/><path d="M174.37 119.55L178.17 123.65L174.37 127.75Z" fill="#0000ff"/>
<path d="M180.05 123.65L183.85 119.55L187.65 123.65L183.85 127.75Z" fill="#fff" stroke="#0000ff" stroke-width="0.75"/><path d="M183.85 119.55L187.65 123.65L183.85 127.75Z" fill="#0000ff"/>
<path d="M189.53 123.65L193.33 119.55L197.13 123.65L193.33 127.75Z" fill="#fff" stroke="#0000ff" stroke-width="0.75"/><path d="M193.33 119.55L197.13 123.65L193.33 127.75Z" fill="#0000ff"/>
<path d="M199.01 123.64L202.81 119.54L206.61 123.64L202.81 127.74Z" fill="#fff" stroke="#0000ff" stroke-width="0.75"/><path d="M202.81 119.54L206.61 123.64L202.81 127.74Z" fill="#0000ff"/>
<path d="M208.49 123.64L212.29 119.54L216.09 123.64L212.29 127.74Z" fill="#fff" stroke="#0000ff" stroke-width="0.75"/><path d="M212.29 119.54L216.09 123.64L212.29 127.74Z" fill="#0000ff"/>
<path d="M217.97 123.64L221.77 119.54L225.57 123.64L221.77 127.74Z" fill="#fff" stroke="#0000ff" stroke-width="0.75"/><path d="M221.77 119.54L225.57 123.64L221.77 127.74Z" fill="#0000ff"/>
<path d="M227.45 123.63L231.25 119.53L235.05 123.63L231.25 127.73Z" fill="#fff" stroke="#0000ff" stroke-width="0.75"/><path d="M231.25 119.53L235.05 123.63L231.25 127.73Z" fill="#0000ff"/>
<path d="M236.93 123.63L240.73 119.53L244.53 123.63L240.73 127.73Z" fill="#fff" stroke="#0000ff" stroke-width="0.75"/><path d="M240.73 119.53L244.53 123.63L240.73 127.73Z" fill="#0000ff"/>
<path d="M246.41 123.62L250.21 119.52L254.01 123.62L250.21 127.72Z" fill="#fff" stroke="#0000ff" stroke-width="0.75"/><path d="M250.21 119.52L254.01 123.62L250.21 127.72Z" fill="#0000ff"/>
<path d="M255.89 123.62L259.69 119.52L263.49 123.62L259.69 127.72Z" fill="#fff" stroke="#0000ff" stroke-width="0.75"/><path d="M259.69 119.52L263.49 123.62L259.69 127.72Z" fill="#0000ff"/>
<path d="M265.37 123.62L269.17 119.52L272.97 123.62L269.17 127.72Z" fill="#fff" stroke="#0000ff" stroke-width="0.75"/><path d="M269.17 119.52L272.97 123.62L269.17 127.72Z" fill="#0000ff"/>
<path d="M274.85 123.61L278.65 119.51L282.45 123.61L278.65 127.71Z" fill="#fff" stroke="#0000ff" stroke-width="0.75"/><path d="M278.65 119.51L282.45 123.61L278.65 127.71Z" fill="#0000ff"/>
<path d="M284.33 123.61L288.13 119.51L291.93 123.61L288.13 127.71Z" fill="#fff" stroke="#0000ff" stroke-width="0.75"/><path d="M288.13 119.51L291.93 123.61L288.13 127.71Z" fill="#0000ff"/>
<path d="M293.81 123.61L297.61 119.51L301.41 123.61L297.61 127.71Z" fill="#fff" stroke="#0000ff" stroke-width="0.75"/><path d="M297.61 119.51L301.41 123.61L297.61 127.71Z" fill="#0000ff"/>
<path d="M303.29 123.6L307.09 119.50L310.89 123.6L307.09 127.70Z" fill="#fff" stroke="#0000ff" stroke-width="0.75"/><path d="M307.09 119.50L310.89 123.6L307.09 127.70Z" fill="#0000ff"/>
</g>
</g>
<path d="M41.5 4.4V250.3H378.2M36.2 250.30H41.5M36.2 219.64H41.5M36.2 188.98H41.5M36.2 158.32H41.5M36.2 127.66H41.5M36.2 97.00H41.5M36.2 66.34H41.5M36.2 35.68H41.5M36.2 5.02H41.5M39 234.97H41.5M39 204.31H41.5M39 173.65H41.5M39 142.99H41.5M39 112.33H41.5M39 81.67H41.5M39 51.01H41.5M39 20.35H41.5M41.40 250.3V255.6M86.23 250.3V255.6M131.06 250.3V255.6M175.88 250.3V255.6M220.71 250.3V255.6M265.54 250.3V255.6M310.37 250.3V255.6M355.20 250.3V255.6M63.81 250.3V253.2M108.64 250.3V253.2M153.47 250.3V253.2M198.30 250.3V253.2M243.13 250.3V253.2M287.95 250.3V253.2M332.78 250.3V253.2M377.61 250.3V253.2" fill="none" stroke="#000" stroke-width="1.1"/>
<g font-family="Liberation Sans, Arial, sans-serif" font-size="11.1" fill="#000">
<text x="32.6" y="253.70" text-anchor="end">0.0</text>
<text x="32.6" y="223.04" text-anchor="end">0.1</text>
<text x="32.6" y="192.38" text-anchor="end">0.2</text>
<text x="32.6" y="161.72" text-anchor="end">0.3</text>
<text x="32.6" y="131.06" text-anchor="end">0.4</text>
<text x="32.6" y="100.40" text-anchor="end">0.5</text>
<text x="32.6" y="69.74" text-anchor="end">0.6</text>
<text x="32.6" y="39.08" text-anchor="end">0.7</text>
<text x="32.6" y="8.42" text-anchor="end">0.8</text>
<text x="41.40" y="266.4" text-anchor="middle">0</text>
<text x="86.23" y="266.4" text-anchor="middle">20</text>
<text x="131.06" y="266.4" text-anchor="middle">40</text>
<text x="175.88" y="266.4" text-anchor="middle">60</text>
<text x="220.71" y="266.4" text-anchor="middle">80</text>
<text x="265.54" y="266.4" text-anchor="middle">100</text>
<text x="310.37" y="266.4" text-anchor="middle">120</text>
<text x="355.20" y="266.4" text-anchor="middle">140</text>
</g>
<text x="210.4" y="283.7" text-anchor="middle" font-family="Liberation Sans, Arial, sans-serif" font-size="13.8" fill="#000" stroke="#000" stroke-width="0.45">Time (s)</text>
<text transform="translate(11.1 128.3) rotate(-90) scale(1.04 1.14)" text-anchor="middle" font-family="Liberation Sans, Arial, sans-serif" font-size="13.5" fill="#000" stroke="#000" stroke-width="0.6">COF</text>
<g font-family="Liberation Sans, Arial, sans-serif" font-size="11.7" fill="#000">
<path d="M313.5 64.00H344.5" stroke="#000000" stroke-width="1.4"/>
<rect x="326.50" y="61.70" width="5.00" height="4.60" fill="#fff" stroke="#000" stroke-width="0.8"/><rect x="326.10" y="61.30" width="5.80" height="2.90" fill="#000"/>
<text transform="translate(348.2 68.10) scale(1.13 1)">pH=10</text>
<path d="M313.5 80.37H344.5" stroke="#ff0000" stroke-width="1.15"/>
<circle cx="329" cy="80.37" r="3.2" fill="url(#rg)"/>
<text transform="translate(348.2 84.47) scale(1.13 1)">pH=9</text>
<path d="M313.5 96.74H344.5" stroke="#800080" stroke-width="1.4"/>
<path d="M329.00 92.94L325.40 99.14L332.60 99.14Z" fill="#fff" stroke="#800080" stroke-width="1"/><path d="M329.00 92.94L329.00 99.14L332.60 99.14Z" fill="#800080"/>
<text transform="translate(348.2 100.84) scale(1.13 1)">pH=8</text>
<path d="M313.5 113.11H344.5" stroke="#800000" stroke-width="1.4"/>
<circle cx="329" cy="113.11" r="3.0" fill="#fff" stroke="#800000" stroke-width="0.8"/><path d="M329 110.11A3.0 3.0 0 0 1 329 116.11Z" fill="#800000"/>
<text transform="translate(348.2 117.21) scale(1.13 1)">pH=6</text>
<path d="M313.5 129.48H344.5" stroke="#008000" stroke-width="1.4"/>
<path d="M329.00 125.68L329.94 128.19L332.61 128.31L330.52 129.97L331.23 132.55L329.00 131.08L326.77 132.55L327.48 129.97L325.39 128.31L328.06 128.19Z" fill="#fff" stroke="#008000" stroke-width="0.75"/>
<text transform="translate(348.2 133.58) scale(1.13 1)">pH=5</text>
<path d="M313.5 145.85H344.5" stroke="#ff00ff" stroke-width="1.4"/>
<path d="M329.00 149.65L325.90 144.05L332.10 144.05Z" fill="#fff" stroke="#ff00ff" stroke-width="1"/>
<text transform="translate(348.2 149.95) scale(1.13 1)">pH=4</text>
<path d="M313.5 162.22H344.5" stroke="#7878ff" stroke-width="1.15"/>
<path d="M325.20 162.22L329 158.12L332.80 162.22L329 166.32Z" fill="#fff" stroke="#0000ff" stroke-width="0.75"/><path d="M329 158.12L332.80 162.22L329 166.32Z" fill="#0000ff"/>
<text transform="translate(348.2 166.32) scale(1.13 1)">pH=3</text>
</g>
</svg>
</body></html>
